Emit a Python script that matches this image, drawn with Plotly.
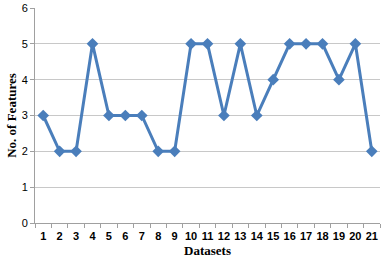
import plotly.graph_objects as go

datasets = [str(i) for i in range(1, 22)]
features = [3, 2, 2, 5, 3, 3, 3, 2, 2, 5, 5, 3, 5, 3, 4, 5, 5, 5, 4, 5, 2]
y_ticks = [0, 1, 2, 3, 4, 5, 6]

fig = go.Figure(go.Scatter(
    x=datasets, y=features, mode="lines+markers",
    line=dict(color="#4a7ebb", width=3),
    marker=dict(symbol="diamond", size=9, color="#4a7ebb"),
))

tick_font = dict(family="Liberation Sans", size=11, color="#000000")
title_font = dict(family="Liberation Serif", size=13, color="#000000")

fig.update_layout(
    width=390, height=260,
    margin=dict(l=35, r=10, t=8, b=37, autoexpand=False),
    paper_bgcolor="white", plot_bgcolor="white",
    showlegend=False,
    xaxis=dict(
        type="category", range=[-0.5, len(datasets) - 0.5],
        tickson="boundaries", ticks="outside", ticklen=4,
        tickcolor="#a0a0a0", showline=True, linecolor="#a0a0a0", linewidth=1,
        showgrid=False, tickfont=tick_font, tickangle=0, automargin=False,
        ticklabelstandoff=3,
        title=dict(text="<b>Datasets</b>", font=title_font, standoff=4),
    ),
    yaxis=dict(
        range=[0, 6], tickvals=y_ticks, showline=True, linecolor="#a0a0a0",
        ticks="outside", ticklen=4, tickcolor="#a0a0a0", automargin=False,
        showgrid=True, gridcolor="#c8c8c8", gridwidth=1, zeroline=False,
        tickfont=tick_font,
        title=dict(text="<b>No. of Features</b>", font=title_font, standoff=2),
    ),
)
fig.update_xaxes(tickprefix="<b>", ticksuffix="</b>")
fig.update_yaxes(tickprefix="<b>", ticksuffix="</b>")

fig.write_html(
    "out.html",
    config={"displayModeBar": False},
    post_script="document.body.style.margin='0';document.body.style.overflow='hidden';",
)
